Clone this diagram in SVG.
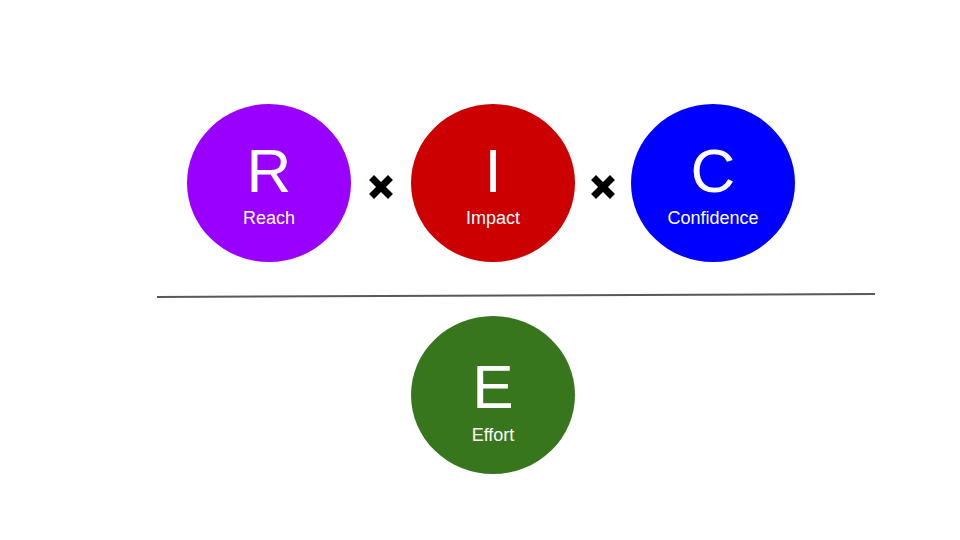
<svg xmlns="http://www.w3.org/2000/svg" width="960" height="540" viewBox="0 0 960 540">
<style>
.big{font-family:"Liberation Sans",Arial,sans-serif;font-size:62px;fill:#fff;text-anchor:middle}
.lbl{font-family:"Liberation Sans",Arial,sans-serif;font-size:18px;fill:#fff;text-anchor:middle}
.op{stroke:#000;stroke-width:7;stroke-linecap:square;fill:none}
</style>
<defs>
<path id="x" class="op" d="M-7,-7 L7,7 M7,-7 L-7,7"/>
</defs>
<rect width="960" height="540" fill="#fff"/>
<g id="connectors">
<line x1="157" y1="297" x2="875" y2="294" stroke="#595959" stroke-width="2"/>
</g>
<g id="R">
<ellipse cx="269" cy="183" rx="82" ry="79" fill="#9900ff"/>
<text class="big" x="269" y="192">R</text>
<text class="lbl" x="269" y="224">Reach</text>
</g>
<g id="times1"><use href="#x" x="381" y="187"/></g>
<g id="I">
<ellipse cx="493" cy="183" rx="82" ry="79" fill="#cc0000"/>
<text class="big" x="493" y="192">I</text>
<text class="lbl" x="493" y="224">Impact</text>
</g>
<g id="times2"><use href="#x" x="603" y="187"/></g>
<g id="C">
<ellipse cx="713" cy="183" rx="82" ry="79" fill="#0000ff"/>
<text class="big" x="713" y="192">C</text>
<text class="lbl" x="713" y="224">Confidence</text>
</g>
<g id="E">
<ellipse cx="493" cy="395" rx="82" ry="79" fill="#38761d"/>
<text class="big" x="493" y="408">E</text>
<text class="lbl" x="493" y="441">Effort</text>
</g>
</svg>
